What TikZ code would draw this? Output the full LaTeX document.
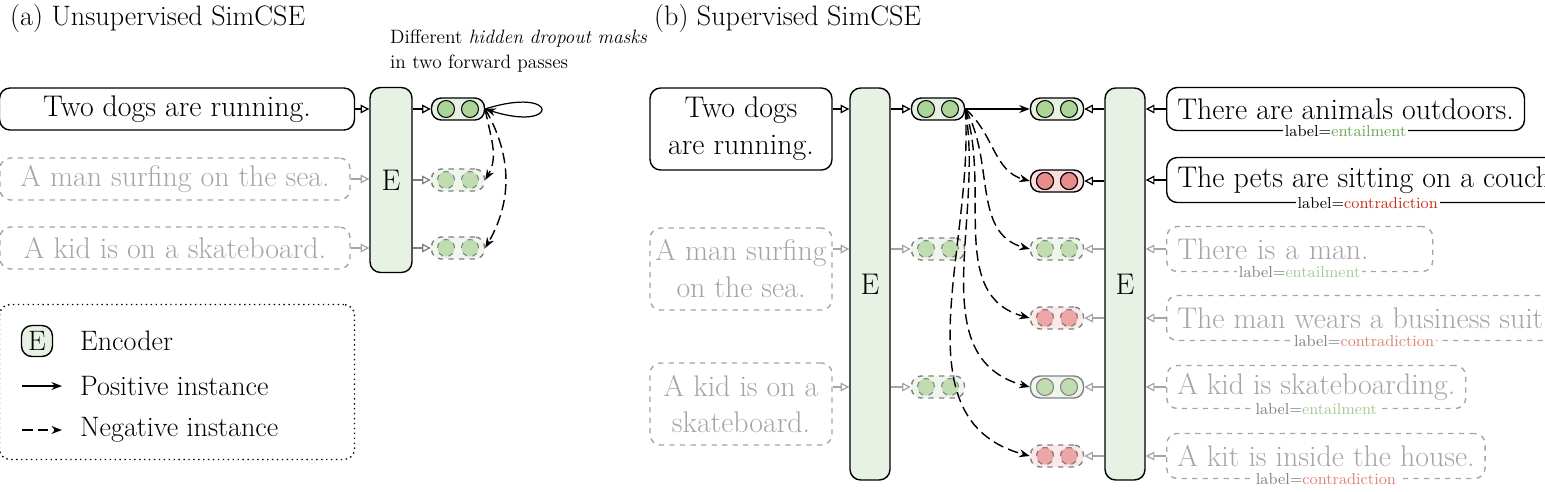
\documentclass[tikz,border=0pt]{standalone}
\usepackage{tikz}
\usetikzlibrary{arrows.meta,positioning}
\definecolor{encfill}{RGB}{231,242,228}
\definecolor{dotgreen}{RGB}{172,212,152}
\definecolor{pillred}{RGB}{250,222,222}
\definecolor{dotred}{RGB}{232,140,140}
\definecolor{entgreen}{RGB}{102,168,80}
\definecolor{conred}{RGB}{196,48,28}
\definecolor{faded}{RGB}{165,165,165}
\tikzset{
  sent/.style={draw, rounded corners=6pt, line width=0.8pt, font=\fontsize{17}{21}\selectfont, align=center, inner sep=0pt},
  ghost/.style={sent, dashed, draw=faded, text=faded},
  enc/.style={draw, rounded corners=6pt, fill=encfill, line width=0.8pt, font=\fontsize{17}{21}\selectfont},
  pill/.style={draw, rounded corners=5.5pt, fill=encfill, minimum width=1.06cm, minimum height=0.44cm, line width=0.8pt},
  dotc/.style={circle, draw, fill=dotgreen, minimum size=0.34cm, inner sep=0pt, line width=0.6pt},
  feed/.style={-{Triangle[open,length=5pt,width=5pt]}, line width=0.7pt},
  posarr/.style={-{Stealth[length=6pt]}, line width=0.8pt},
  negarr/.style={-{Stealth[length=6pt]}, line width=0.8pt, dash pattern=on 6pt off 3pt},
  lbl/.style={fill=white, inner sep=1pt, font=\small}
}
\newcommand\embed[4]{% name, x, y, style
  \node[pill,#4] (#1) at (#2,#3) {};
  \node[dotc,#4,minimum width=0.34cm,minimum height=0.34cm,rounded corners=0] at ([xshift=-0.24cm]#1.center) {};
  \node[dotc,#4,minimum width=0.34cm,minimum height=0.34cm,rounded corners=0] at ([xshift=0.24cm]#1.center) {};
}
\begin{document}
\begin{tikzpicture}[x=0.02cm,y=-0.02cm]
\useasboundingbox (0,0) rectangle (1545,491);
% (a) unsupervised
\node[anchor=west, font=\fontsize{16}{19}\selectfont] (ta) at (4,18) {(a) Unsupervised SimCSE};
\node[anchor=south west, align=left, font=\fontsize{11}{14}\selectfont] (note) at (384,78) {Different \emph{hidden dropout masks}\\in two forward passes};
\node[sent, minimum width=7.1cm, minimum height=0.84cm] (a1) at (177,109) {Two dogs are running.};
\node[ghost, minimum width=7.0cm, minimum height=0.84cm] (a2) at (175,179) {A man surfing on the sea.};
\node[ghost, minimum width=7.0cm, minimum height=0.84cm] (a3) at (175,248) {A kid is on a skateboard.};
\node[enc, minimum width=0.84cm, minimum height=3.7cm] (ea) at (391,180) {E};
\embed{p1}{458}{109}{}
\embed{p2}{458}{180}{dashed, draw=gray, fill opacity=0.7}
\embed{p3}{458}{248}{dashed, draw=gray, fill opacity=0.7}
\draw[feed] (a1.east) -- (a1.east -| ea.west);
\draw[feed, faded] (a2.east) -- (a2.east -| ea.west);
\draw[feed, faded] (a3.east) -- (a3.east -| ea.west);
\draw[feed] (p1.west -| ea.east) -- (p1.west);
\draw[feed, gray] (p2.west -| ea.east) -- (p2.west);
\draw[feed, gray] (p3.west -| ea.east) -- (p3.west);
\draw[posarr, line width=0.7pt] (p1.east) .. controls (560,85) and (560,133) .. (p1.east);
\draw[negarr] (p1.east) to[out=-80,in=60] (p2.east);
\draw[negarr] (p1.east) to[out=-60,in=60] (p3.east);
% legend
\node[draw, dotted, line width=0.8pt, rounded corners=6pt, minimum width=7.1cm, minimum height=3.1cm] (leg) at (177,382) {};
\node[enc, minimum size=0.62cm, inner sep=0pt, font=\fontsize{16}{19}\selectfont] (le) at (37,341) {E};
\node[anchor=west, font=\fontsize{16}{19}\selectfont] (lt1) at (74,341) {Encoder};
\coordinate (ls2) at (22,386);
\coordinate (le2) at (62,386);
\draw[posarr] (ls2) -- (le2);
\node[anchor=west, font=\fontsize{16}{19}\selectfont] (lt2) at (74,386) {Positive instance};
\coordinate (ls3) at (22,430);
\coordinate (le3) at (62,430);
\draw[negarr] (ls3) -- (le3);
\node[anchor=west, font=\fontsize{16}{19}\selectfont] (lt3) at (74,430) {Negative instance};
% (b) supervised
\node[anchor=west, font=\fontsize{16}{19}\selectfont] (tb) at (648,18) {(b) Supervised SimCSE};
\node[sent, minimum width=3.64cm, minimum height=1.64cm] (b1) at (741,129) {Two dogs\\are running.};
\node[ghost, minimum width=3.64cm, minimum height=1.64cm] (b2) at (741,269) {A man surfing\\on the sea.};
\node[ghost, minimum width=3.64cm, minimum height=1.64cm] (b3) at (741,404) {A kid is on a\\skateboard.};
\node[enc, minimum width=0.8cm, minimum height=7.84cm] (el) at (870,284) {E};
\node[enc, minimum width=0.8cm, minimum height=7.84cm] (er) at (1125,284) {E};
\embed{l1}{938}{109}{}
\embed{l2}{938}{249}{dashed, draw=gray, fill opacity=0.7}
\embed{l3}{938}{387}{dashed, draw=gray, fill opacity=0.7}
\foreach \sn/\pl [count=\i] in {b1/l1,b2/l2,b3/l3}{
  \ifnum\i=1 \def\col{black}\else\def\col{faded}\fi
  \draw[feed, \col] (\pl.west -| \sn.east) -- (\pl.west -| el.west);
  \draw[feed, \col] (\pl.west -| el.east) -- (\pl.west);
}
\embed{r1}{1057}{109}{}
\embed{r2}{1057}{181}{fill=pillred}
\embed{r3}{1057}{249}{dashed, draw=gray, fill opacity=0.7}
\embed{r4}{1057}{318}{dashed, draw=gray, fill=pillred, fill opacity=0.7}
\embed{r5}{1057}{387}{draw=gray, fill opacity=0.7}
\embed{r6}{1057}{456}{dashed, draw=gray, fill=pillred, fill opacity=0.7}
\node[dotc, fill=dotred] at ([xshift=-0.24cm]r2.center) {};
\node[dotc, fill=dotred] at ([xshift=0.24cm]r2.center) {};
\node[dotc, fill=dotred, dashed, draw=gray, fill opacity=0.7] at ([xshift=-0.24cm]r4.center) {};
\node[dotc, fill=dotred, dashed, draw=gray, fill opacity=0.7] at ([xshift=0.24cm]r4.center) {};
\node[dotc, fill=dotred, dashed, draw=gray, fill opacity=0.7] at ([xshift=-0.24cm]r6.center) {};
\node[dotc, fill=dotred, dashed, draw=gray, fill opacity=0.7] at ([xshift=0.24cm]r6.center) {};
% right sentences
\node[sent, anchor=west, minimum height=0.86cm, inner xsep=6pt] (s1) at (1166,109) {There are animals outdoors.};
\node[sent, anchor=west, minimum height=0.9cm, inner xsep=6pt] (s2) at (1166,180) {The pets are sitting on a couch.};
\node[ghost, anchor=west, minimum height=0.9cm, inner xsep=6pt, text width=4.9cm, align=left] (s3) at (1166,249) {There is a man.};
\node[ghost, anchor=west, minimum height=0.9cm, inner xsep=6pt] (s4) at (1166,318) {The man wears a business suit.};
\node[ghost, anchor=west, minimum height=0.86cm, inner xsep=6pt] (s5) at (1166,387) {A kid is skateboarding.};
\node[ghost, anchor=west, minimum height=0.9cm, inner xsep=6pt] (s6) at (1166,456) {A kit is inside the house.};
\node[lbl] (g1) at (s1.south) {label=\textcolor{entgreen}{entailment}};
\node[lbl] (g2) at (s2.south) {label=\textcolor{conred}{contradiction}};
\node[lbl, text=gray] (g3) at (s3.south) {label=\textcolor{entgreen!60}{entailment}};
\node[lbl, text=gray] (g4) at (s4.south) {label=\textcolor{conred!60}{contradiction}};
\node[lbl, text=gray] (g5) at (s5.south) {label=\textcolor{entgreen!60}{entailment}};
\node[lbl, text=gray] (g6) at (s6.south) {label=\textcolor{conred!60}{contradiction}};
\foreach \i in {1,...,6}{
  \ifnum\i<3 \def\col{black}\else\def\col{faded}\fi
  \draw[feed, \col] (s\i.west) -- (s\i.west -| er.east);
  \draw[feed, \col] (r\i.east -| er.west) -- (r\i.east);
}
\draw[posarr] (l1.east) -- (r1.west);
\foreach \i/\o in {2/-40,3/-60,4/-72,5/-80,6/-86}{
  \draw[negarr] (l1.east) to[out=\o,in=165] (r\i.west);
}
\end{tikzpicture}
\end{document}
